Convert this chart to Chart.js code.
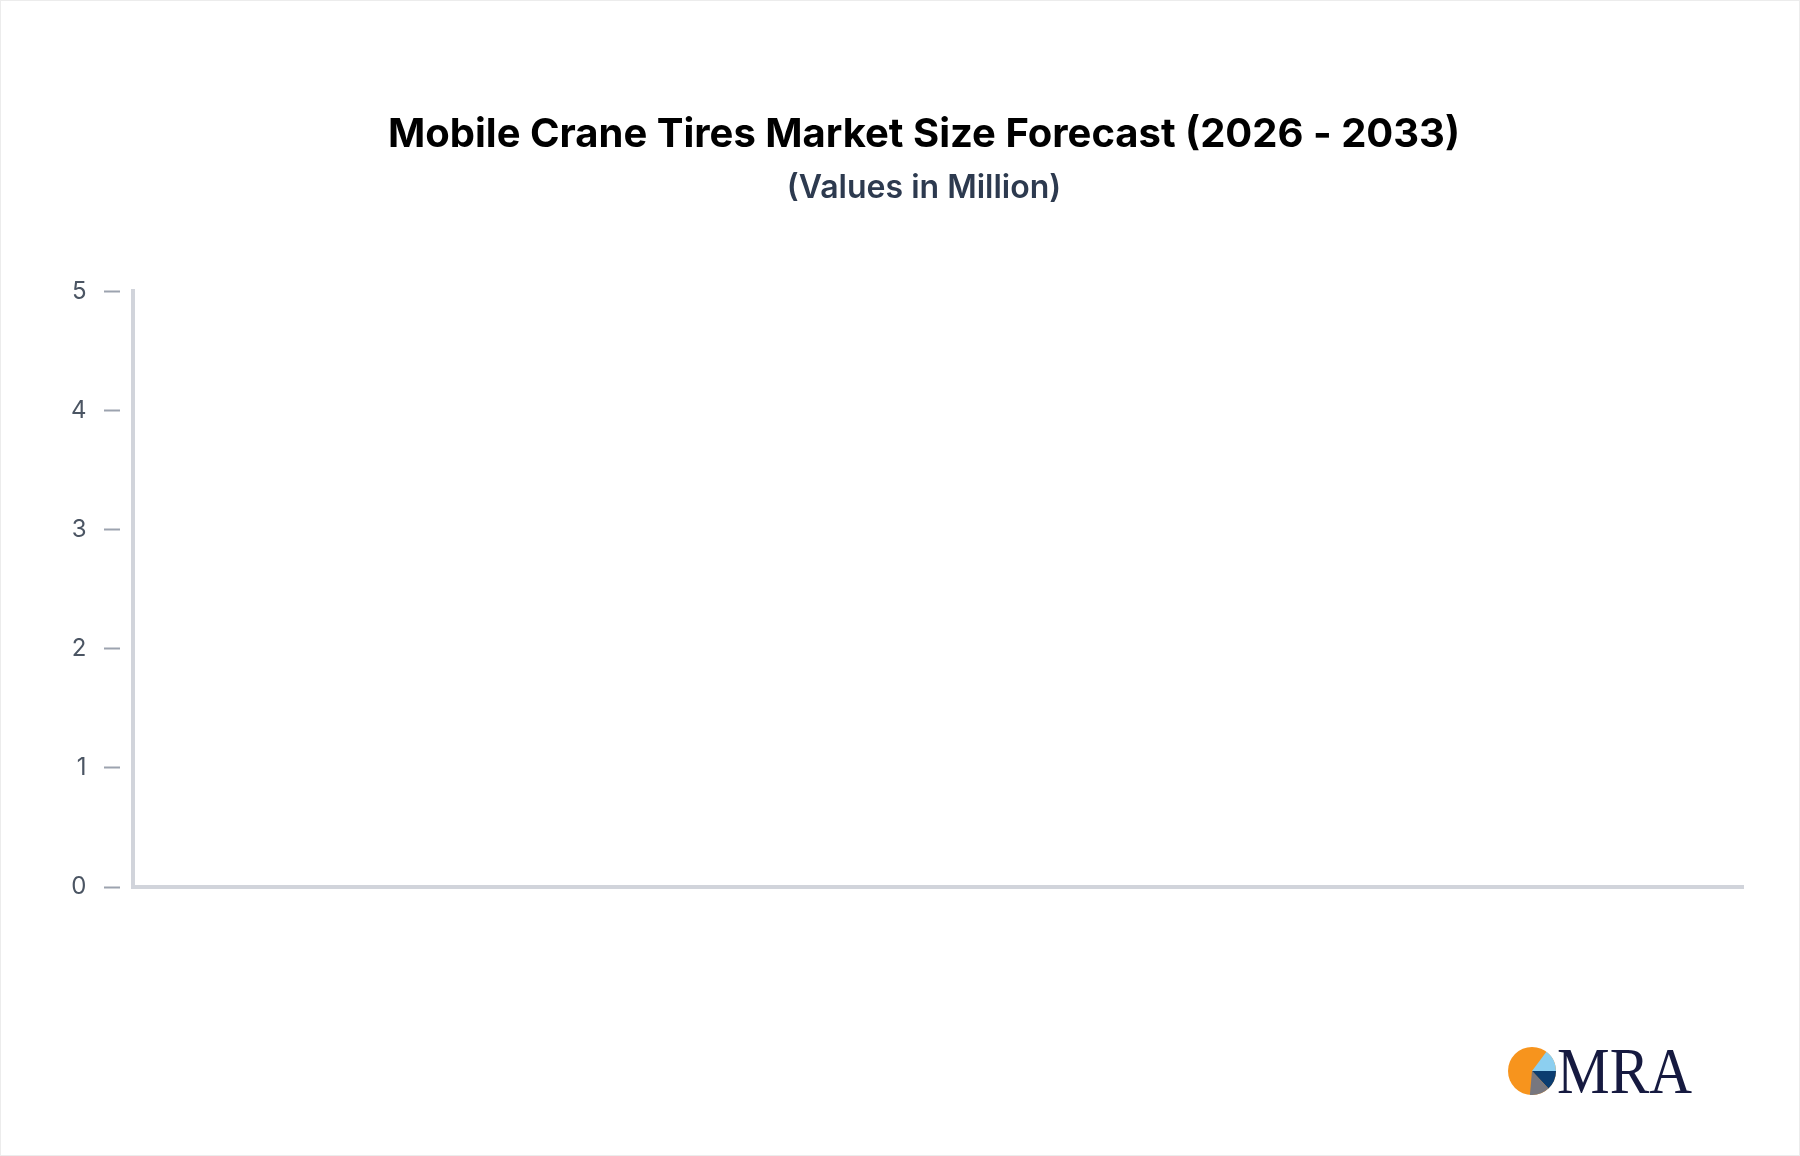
<!DOCTYPE html>
<html>
<head>
<meta charset="utf-8">
<script src="https://cdn.jsdelivr.net/npm/chart.js@4.4.1/dist/chart.umd.min.js"></script>
<style>
  html, body { margin:0; padding:0; background:#fff; }
  #page { position:relative; width:1800px; height:1156px; box-sizing:border-box; border:1px solid #ececec; overflow:hidden; }
  #wrap { position:absolute; left:0; top:0; width:1800px; height:1156px; }
  #logo { position:absolute; left:1500px; top:1036px; }
</style>
</head>
<body>
<div id="page">
  <div id="wrap"><canvas id="sizeChart"></canvas></div>
  <svg id="logo" width="200" height="64" viewBox="0 0 200 64">
    <circle cx="31" cy="34" r="24" fill="#f7941d"/>
    <path d="M31 34 L45.4 14.8 A24 24 0 0 1 55 34 Z" fill="#8ccff0"/>
    <path d="M31 34 L55 34 A24 24 0 0 1 47.4 51.5 Z" fill="#0b3d70"/>
    <path d="M31 34 L47.4 51.5 A24 24 0 0 1 28.9 57.9 Z" fill="#77777f"/>
    <text x="56" y="56" font-family="Liberation Serif, DejaVu Serif, serif" font-size="66" fill="#161a40" textLength="135" lengthAdjust="spacingAndGlyphs">MRA</text>
  </svg>
</div>
<script>
// Chart data (the reference shows no values plotted)
const years = [];
const marketSize = [];
const yTicks = [0, 1, 2, 3, 4, 5];

const titleText = "Mobile Crane Tires Market Size Forecast (2026 - 2033)";
const subtitleText = "(Values in Million)";

const axisColor = "#d1d4db";
const tickColor = "#9ca3af";

const ctx = document.getElementById("sizeChart").getContext("2d");
const chart = new Chart(ctx, {
  type: "bar",
  data: {
    labels: years,
    datasets: [{
      label: "Market Size",
      data: marketSize,
      backgroundColor: "#f7941d"
    }]
  },
  options: {
    responsive: true,
    maintainAspectRatio: false,
    animation: false,
    layout: { padding: { top: 1, left: 104, right: 58, bottom: 262 } },
    plugins: {
      legend: { display: false },
      tooltip: { enabled: false },
      title: {
        display: true,
        text: titleText,
        color: "#000",
        font: { family: "Inter", size: 40, weight: "bold" },
        padding: { top: 109, bottom: 0 }
      },
      subtitle: {
        display: true,
        text: subtitleText,
        color: "#2d3a4f",
        font: { family: "Inter", size: 32, weight: "600" },
        padding: { top: 10, bottom: 84 }
      }
    },
    scales: {
      x: {
        grid: { display: false },
        border: { display: true, color: axisColor, width: 4 },
        ticks: { display: false }
      },
      y: {
        min: yTicks[0],
        max: yTicks[yTicks.length - 1],
        afterBuildTicks: (axis) => { axis.ticks = yTicks.map(v => ({ value: v })); },
        // narrow axis box; mirrored labels are pushed back out to the left
        afterFit: (axis) => { axis.width = 28; },
        grid: {
          display: true,
          drawOnChartArea: false,
          drawTicks: true,
          tickLength: 29,
          tickWidth: 2,
          tickColor: tickColor,
          tickBorderDash: [16, 20]
        },
        border: { display: true, color: axisColor, width: 4 },
        ticks: {
          mirror: true,
          crossAlign: "far",
          padding: -62,
          color: "#4b5563",
          font: { family: "Inter", size: 24 }
        }
      }
    }
  }
});
</script>
</body>
</html>
